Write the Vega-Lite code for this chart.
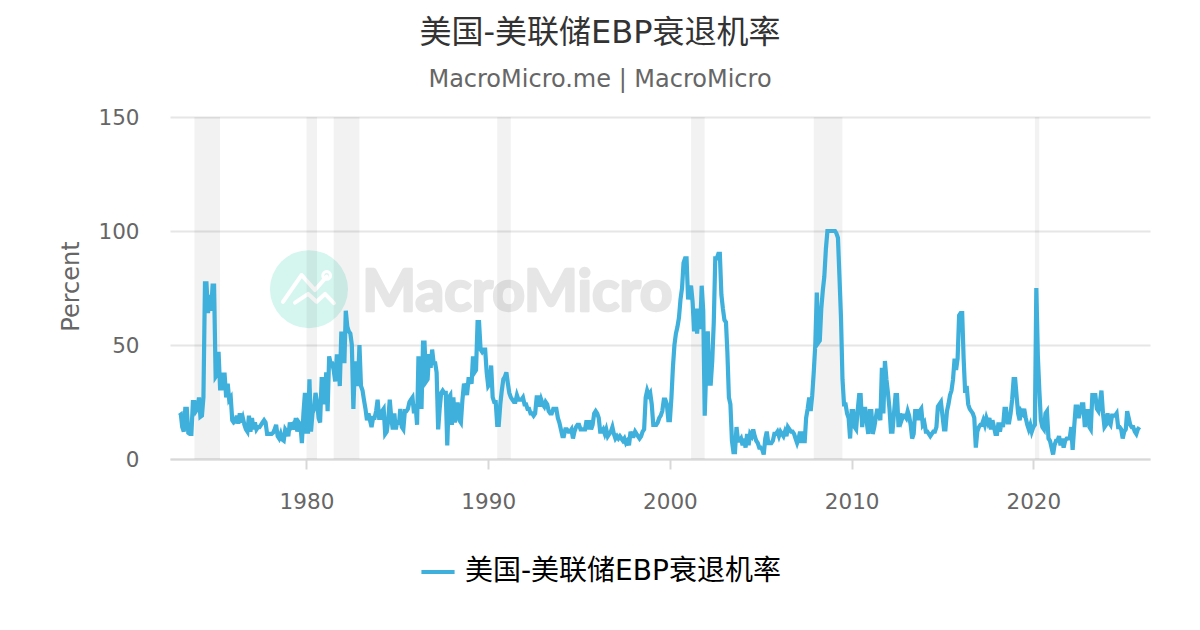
{
  "$schema": "https://vega.github.io/schema/vega-lite/v6.json",
  "width": 980,
  "height": 342,
  "autosize": {"type": "none"},
  "padding": {"left": 170, "top": 117, "right": 50, "bottom": 171},
  "background": "#ffffff",
  "title": {
    "text": "美国-美联储EBP衰退机率",
    "subtitle": "MacroMicro.me | MacroMicro",
    "anchor": "middle",
    "dx": -60,
    "offset": 14,
    "font": "DejaVu Sans, Noto Sans CJK SC",
    "fontSize": 32,
    "fontWeight": "normal",
    "color": "#333333",
    "subtitleFont": "DejaVu Sans",
    "subtitleFontSize": 24,
    "subtitleColor": "#666666",
    "subtitlePadding": 18
  },
  "datasets": {
    "recessions": [
      {"start": "1973-11-01", "end": "1975-03-31"},
      {"start": "1980-01-01", "end": "1980-07-31"},
      {"start": "1981-07-01", "end": "1982-11-30"},
      {"start": "1990-07-01", "end": "1991-03-31"},
      {"start": "2001-03-01", "end": "2001-11-30"},
      {"start": "2007-12-01", "end": "2009-06-30"},
      {"start": "2020-02-01", "end": "2020-04-30"}
    ],
    "logo_lines": [
      {"part": "a", "d": "1978-09-15", "v": 68.9},
      {"part": "a", "d": "1979-09-25", "v": 80.7},
      {"part": "a", "d": "1980-06-20", "v": 74.1},
      {"part": "a", "d": "1981-02-10", "v": 80},
      {"part": "b", "d": "1979-05-15", "v": 68.6},
      {"part": "b", "d": "1980-02-05", "v": 72.4},
      {"part": "b", "d": "1980-07-22", "v": 69},
      {"part": "b", "d": "1981-01-08", "v": 72.4},
      {"part": "b", "d": "1981-07-05", "v": 68.4}
    ],
    "series": [
      {"d":"1973-01-01","v":19},{"d":"1973-02-01","v":19.5},{"d":"1973-03-01","v":14},{"d":"1973-04-01","v":12},{"d":"1973-05-01","v":22},{"d":"1973-06-01","v":22},{"d":"1973-07-01","v":11.5},{"d":"1973-08-01","v":11},{"d":"1973-09-01","v":11},{"d":"1973-10-01","v":25},{"d":"1973-11-01","v":25},{"d":"1973-12-01","v":21},
      {"d":"1974-01-01","v":22},{"d":"1974-02-01","v":27},{"d":"1974-03-01","v":18.5},{"d":"1974-04-01","v":19},{"d":"1974-05-01","v":27},{"d":"1974-06-01","v":77},{"d":"1974-07-01","v":77},{"d":"1974-08-01","v":64},{"d":"1974-09-01","v":72},{"d":"1974-10-01","v":65},{"d":"1974-11-01","v":76},{"d":"1974-12-01","v":76},
      {"d":"1975-01-01","v":36},{"d":"1975-02-01","v":37},{"d":"1975-03-01","v":47},{"d":"1975-04-01","v":31},{"d":"1975-05-01","v":31},{"d":"1975-06-01","v":37},{"d":"1975-07-01","v":37},{"d":"1975-08-01","v":27},{"d":"1975-09-01","v":33},{"d":"1975-10-01","v":26},{"d":"1975-11-01","v":27},{"d":"1975-12-01","v":17},
      {"d":"1976-01-01","v":16},{"d":"1976-02-01","v":16.5},{"d":"1976-03-01","v":19},{"d":"1976-04-01","v":15.5},{"d":"1976-05-01","v":20},{"d":"1976-06-01","v":16},{"d":"1976-07-01","v":18},{"d":"1976-08-01","v":15},{"d":"1976-09-01","v":13},{"d":"1976-10-01","v":12},{"d":"1976-11-01","v":19},{"d":"1976-12-01","v":12},
      {"d":"1977-01-01","v":18},{"d":"1977-02-01","v":13},{"d":"1977-03-01","v":16},{"d":"1977-04-01","v":13},{"d":"1977-05-01","v":14},{"d":"1977-06-01","v":14},{"d":"1977-07-01","v":15},{"d":"1977-08-01","v":16},{"d":"1977-09-01","v":17},{"d":"1977-10-01","v":16},{"d":"1977-11-01","v":11},{"d":"1977-12-01","v":11},
      {"d":"1978-01-01","v":11},{"d":"1978-02-01","v":11},{"d":"1978-03-01","v":11.5},{"d":"1978-04-01","v":13},{"d":"1978-05-01","v":15},{"d":"1978-06-01","v":10},{"d":"1978-07-01","v":9},{"d":"1978-08-01","v":11},{"d":"1978-09-01","v":8.5},{"d":"1978-10-01","v":8},{"d":"1978-11-01","v":13},{"d":"1978-12-01","v":12},
      {"d":"1979-01-01","v":10},{"d":"1979-02-01","v":16},{"d":"1979-03-01","v":14},{"d":"1979-04-01","v":15},{"d":"1979-05-01","v":13},{"d":"1979-06-01","v":18},{"d":"1979-07-01","v":12},{"d":"1979-08-01","v":16},{"d":"1979-09-01","v":15},{"d":"1979-10-01","v":7},{"d":"1979-11-01","v":20},{"d":"1979-12-01","v":29},
      {"d":"1980-01-01","v":12},{"d":"1980-02-01","v":12},{"d":"1980-03-01","v":35},{"d":"1980-04-01","v":12},{"d":"1980-05-01","v":20},{"d":"1980-06-01","v":22},{"d":"1980-07-01","v":29},{"d":"1980-08-01","v":25},{"d":"1980-09-01","v":18},{"d":"1980-10-01","v":16},{"d":"1980-11-01","v":35},{"d":"1980-12-01","v":35},
      {"d":"1981-01-01","v":24},{"d":"1981-02-01","v":38},{"d":"1981-03-01","v":21},{"d":"1981-04-01","v":45},{"d":"1981-05-01","v":42},{"d":"1981-06-01","v":42},{"d":"1981-07-01","v":39},{"d":"1981-08-01","v":34},{"d":"1981-09-01","v":45},{"d":"1981-10-01","v":45},{"d":"1981-11-01","v":32},{"d":"1981-12-01","v":55},
      {"d":"1982-01-01","v":55},{"d":"1982-02-01","v":42},{"d":"1982-03-01","v":65},{"d":"1982-04-01","v":58},{"d":"1982-05-01","v":56},{"d":"1982-06-01","v":55},{"d":"1982-07-01","v":50},{"d":"1982-08-01","v":22},{"d":"1982-09-01","v":42},{"d":"1982-10-01","v":42},{"d":"1982-11-01","v":32},{"d":"1982-12-01","v":50},
      {"d":"1983-01-01","v":32},{"d":"1983-02-01","v":30},{"d":"1983-03-01","v":26},{"d":"1983-04-01","v":22},{"d":"1983-05-01","v":17},{"d":"1983-06-01","v":20},{"d":"1983-07-01","v":17},{"d":"1983-08-01","v":14},{"d":"1983-09-01","v":18},{"d":"1983-10-01","v":18},{"d":"1983-11-01","v":21},{"d":"1983-12-01","v":26},
      {"d":"1984-01-01","v":18},{"d":"1984-02-01","v":18},{"d":"1984-03-01","v":21},{"d":"1984-04-01","v":22},{"d":"1984-05-01","v":11},{"d":"1984-06-01","v":12},{"d":"1984-07-01","v":17},{"d":"1984-08-01","v":26},{"d":"1984-09-01","v":18},{"d":"1984-10-01","v":13},{"d":"1984-11-01","v":20},{"d":"1984-12-01","v":13},
      {"d":"1985-01-01","v":17},{"d":"1985-02-01","v":15},{"d":"1985-03-01","v":22},{"d":"1985-04-01","v":14},{"d":"1985-05-01","v":13},{"d":"1985-06-01","v":21},{"d":"1985-07-01","v":21},{"d":"1985-08-01","v":22},{"d":"1985-09-01","v":25},{"d":"1985-10-01","v":26},{"d":"1985-11-01","v":27},{"d":"1985-12-01","v":20},
      {"d":"1986-01-01","v":24},{"d":"1986-02-01","v":15},{"d":"1986-03-01","v":45},{"d":"1986-04-01","v":30},{"d":"1986-05-01","v":22},{"d":"1986-06-01","v":51},{"d":"1986-07-01","v":51},{"d":"1986-08-01","v":34},{"d":"1986-09-01","v":35},{"d":"1986-10-01","v":46},{"d":"1986-11-01","v":40},{"d":"1986-12-01","v":48},
      {"d":"1987-01-01","v":42},{"d":"1987-02-01","v":42},{"d":"1987-03-01","v":38},{"d":"1987-04-01","v":13},{"d":"1987-05-01","v":22},{"d":"1987-06-01","v":29},{"d":"1987-07-01","v":30},{"d":"1987-08-01","v":29},{"d":"1987-09-01","v":29},{"d":"1987-10-01","v":6},{"d":"1987-11-01","v":27},{"d":"1987-12-01","v":28},
      {"d":"1988-01-01","v":15},{"d":"1988-02-01","v":27},{"d":"1988-03-01","v":16},{"d":"1988-04-01","v":24},{"d":"1988-05-01","v":24},{"d":"1988-06-01","v":17},{"d":"1988-07-01","v":16},{"d":"1988-08-01","v":26},{"d":"1988-09-01","v":33},{"d":"1988-10-01","v":31},{"d":"1988-11-01","v":28},{"d":"1988-12-01","v":35},
      {"d":"1989-01-01","v":35},{"d":"1989-02-01","v":33},{"d":"1989-03-01","v":45},{"d":"1989-04-01","v":38},{"d":"1989-05-01","v":39},{"d":"1989-06-01","v":60},{"d":"1989-07-01","v":60},{"d":"1989-08-01","v":48},{"d":"1989-09-01","v":47},{"d":"1989-10-01","v":48},{"d":"1989-11-01","v":48},{"d":"1989-12-01","v":38},
      {"d":"1990-01-01","v":32},{"d":"1990-02-01","v":33},{"d":"1990-03-01","v":41},{"d":"1990-04-01","v":27},{"d":"1990-05-01","v":25},{"d":"1990-06-01","v":25},{"d":"1990-07-01","v":15},{"d":"1990-08-01","v":15},{"d":"1990-09-01","v":24},{"d":"1990-10-01","v":30},{"d":"1990-11-01","v":35},{"d":"1990-12-01","v":36},
      {"d":"1991-01-01","v":38},{"d":"1991-02-01","v":33},{"d":"1991-03-01","v":29},{"d":"1991-04-01","v":27},{"d":"1991-05-01","v":26},{"d":"1991-06-01","v":25},{"d":"1991-07-01","v":25},{"d":"1991-08-01","v":28},{"d":"1991-09-01","v":26},{"d":"1991-10-01","v":26},{"d":"1991-11-01","v":26},{"d":"1991-12-01","v":27},
      {"d":"1992-01-01","v":24},{"d":"1992-02-01","v":24},{"d":"1992-03-01","v":22},{"d":"1992-04-01","v":22},{"d":"1992-05-01","v":20},{"d":"1992-06-01","v":20},{"d":"1992-07-01","v":19},{"d":"1992-08-01","v":20},{"d":"1992-09-01","v":27},{"d":"1992-10-01","v":27},{"d":"1992-11-01","v":23},{"d":"1992-12-01","v":26},
      {"d":"1993-01-01","v":24},{"d":"1993-02-01","v":23},{"d":"1993-03-01","v":25},{"d":"1993-04-01","v":24},{"d":"1993-05-01","v":21},{"d":"1993-06-01","v":20},{"d":"1993-07-01","v":20},{"d":"1993-08-01","v":22},{"d":"1993-09-01","v":22},{"d":"1993-10-01","v":22},{"d":"1993-11-01","v":18},{"d":"1993-12-01","v":16},
      {"d":"1994-01-01","v":13},{"d":"1994-02-01","v":10},{"d":"1994-03-01","v":10},{"d":"1994-04-01","v":13},{"d":"1994-05-01","v":13},{"d":"1994-06-01","v":12},{"d":"1994-07-01","v":12},{"d":"1994-08-01","v":13},{"d":"1994-09-01","v":9},{"d":"1994-10-01","v":12},{"d":"1994-11-01","v":14},{"d":"1994-12-01","v":15},
      {"d":"1995-01-01","v":15},{"d":"1995-02-01","v":13},{"d":"1995-03-01","v":13},{"d":"1995-04-01","v":13},{"d":"1995-05-01","v":13},{"d":"1995-06-01","v":17},{"d":"1995-07-01","v":13},{"d":"1995-08-01","v":17},{"d":"1995-09-01","v":13},{"d":"1995-10-01","v":15},{"d":"1995-11-01","v":20},{"d":"1995-12-01","v":21},
      {"d":"1996-01-01","v":20},{"d":"1996-02-01","v":18},{"d":"1996-03-01","v":12},{"d":"1996-04-01","v":12},{"d":"1996-05-01","v":13},{"d":"1996-06-01","v":11},{"d":"1996-07-01","v":13},{"d":"1996-08-01","v":10},{"d":"1996-09-01","v":11},{"d":"1996-10-01","v":12},{"d":"1996-11-01","v":14},{"d":"1996-12-01","v":11},
      {"d":"1997-01-01","v":9},{"d":"1997-02-01","v":10},{"d":"1997-03-01","v":9},{"d":"1997-04-01","v":10},{"d":"1997-05-01","v":9},{"d":"1997-06-01","v":8},{"d":"1997-07-01","v":9},{"d":"1997-08-01","v":7},{"d":"1997-09-01","v":8},{"d":"1997-10-01","v":6},{"d":"1997-11-01","v":12},{"d":"1997-12-01","v":10},
      {"d":"1998-01-01","v":10},{"d":"1998-02-01","v":12},{"d":"1998-03-01","v":11},{"d":"1998-04-01","v":10},{"d":"1998-05-01","v":9},{"d":"1998-06-01","v":10},{"d":"1998-07-01","v":12},{"d":"1998-08-01","v":13},{"d":"1998-09-01","v":27},{"d":"1998-10-01","v":30},{"d":"1998-11-01","v":28},{"d":"1998-12-01","v":29},
      {"d":"1999-01-01","v":24},{"d":"1999-02-01","v":15},{"d":"1999-03-01","v":15},{"d":"1999-04-01","v":15},{"d":"1999-05-01","v":16},{"d":"1999-06-01","v":18},{"d":"1999-07-01","v":19},{"d":"1999-08-01","v":21},{"d":"1999-09-01","v":26},{"d":"1999-10-01","v":26},{"d":"1999-11-01","v":24},{"d":"1999-12-01","v":17},
      {"d":"2000-01-01","v":17},{"d":"2000-02-01","v":27},{"d":"2000-03-01","v":40},{"d":"2000-04-01","v":50},{"d":"2000-05-01","v":55},{"d":"2000-06-01","v":58},{"d":"2000-07-01","v":62},{"d":"2000-08-01","v":70},{"d":"2000-09-01","v":75},{"d":"2000-10-01","v":86},{"d":"2000-11-01","v":88},{"d":"2000-12-01","v":88},
      {"d":"2001-01-01","v":70},{"d":"2001-02-01","v":74},{"d":"2001-03-01","v":76},{"d":"2001-04-01","v":69},{"d":"2001-05-01","v":56},{"d":"2001-06-01","v":66},{"d":"2001-07-01","v":55},{"d":"2001-08-01","v":66},{"d":"2001-09-01","v":57},{"d":"2001-10-01","v":76},{"d":"2001-11-01","v":65},{"d":"2001-12-01","v":19},
      {"d":"2002-01-01","v":40},{"d":"2002-02-01","v":56},{"d":"2002-03-01","v":33},{"d":"2002-04-01","v":33},{"d":"2002-05-01","v":43},{"d":"2002-06-01","v":60},{"d":"2002-07-01","v":88},{"d":"2002-08-01","v":88},{"d":"2002-09-01","v":90},{"d":"2002-10-01","v":90},{"d":"2002-11-01","v":72},{"d":"2002-12-01","v":66},
      {"d":"2003-01-01","v":61},{"d":"2003-02-01","v":60},{"d":"2003-03-01","v":47},{"d":"2003-04-01","v":27},{"d":"2003-05-01","v":24},{"d":"2003-06-01","v":8},{"d":"2003-07-01","v":3},{"d":"2003-08-01","v":3},{"d":"2003-09-01","v":14},{"d":"2003-10-01","v":8},{"d":"2003-11-01","v":8},{"d":"2003-12-01","v":9},
      {"d":"2004-01-01","v":6},{"d":"2004-02-01","v":9},{"d":"2004-03-01","v":5},{"d":"2004-04-01","v":11},{"d":"2004-05-01","v":6},{"d":"2004-06-01","v":11},{"d":"2004-07-01","v":10},{"d":"2004-08-01","v":13},{"d":"2004-09-01","v":10},{"d":"2004-10-01","v":8},{"d":"2004-11-01","v":7},{"d":"2004-12-01","v":5},
      {"d":"2005-01-01","v":5},{"d":"2005-02-01","v":4},{"d":"2005-03-01","v":2},{"d":"2005-04-01","v":9},{"d":"2005-05-01","v":12},{"d":"2005-06-01","v":7},{"d":"2005-07-01","v":7},{"d":"2005-08-01","v":7},{"d":"2005-09-01","v":8},{"d":"2005-10-01","v":11},{"d":"2005-11-01","v":11},{"d":"2005-12-01","v":12},
      {"d":"2006-01-01","v":10},{"d":"2006-02-01","v":12},{"d":"2006-03-01","v":11},{"d":"2006-04-01","v":10},{"d":"2006-05-01","v":12},{"d":"2006-06-01","v":10},{"d":"2006-07-01","v":14},{"d":"2006-08-01","v":13},{"d":"2006-09-01","v":12},{"d":"2006-10-01","v":12},{"d":"2006-11-01","v":11},{"d":"2006-12-01","v":9},
      {"d":"2007-01-01","v":7},{"d":"2007-02-01","v":9},{"d":"2007-03-01","v":12},{"d":"2007-04-01","v":7},{"d":"2007-05-01","v":12},{"d":"2007-06-01","v":7},{"d":"2007-07-01","v":18},{"d":"2007-08-01","v":22},{"d":"2007-09-01","v":27},{"d":"2007-10-01","v":21},{"d":"2007-11-01","v":28},{"d":"2007-12-01","v":38},
      {"d":"2008-01-01","v":50},{"d":"2008-02-01","v":73},{"d":"2008-03-01","v":51},{"d":"2008-04-01","v":52},{"d":"2008-05-01","v":66},{"d":"2008-06-01","v":74},{"d":"2008-07-01","v":80},{"d":"2008-08-01","v":92},{"d":"2008-09-01","v":100},{"d":"2008-10-01","v":100},{"d":"2008-11-01","v":100},{"d":"2008-12-01","v":100},
      {"d":"2009-01-01","v":100},{"d":"2009-02-01","v":100},{"d":"2009-03-01","v":99},{"d":"2009-04-01","v":97},{"d":"2009-05-01","v":80},{"d":"2009-06-01","v":62},{"d":"2009-07-01","v":35},{"d":"2009-08-01","v":24},{"d":"2009-09-01","v":24},{"d":"2009-10-01","v":20},{"d":"2009-11-01","v":18},{"d":"2009-12-01","v":9},
      {"d":"2010-01-01","v":21},{"d":"2010-02-01","v":21},{"d":"2010-03-01","v":14},{"d":"2010-04-01","v":13},{"d":"2010-05-01","v":21},{"d":"2010-06-01","v":28},{"d":"2010-07-01","v":28},{"d":"2010-08-01","v":14},{"d":"2010-09-01","v":22},{"d":"2010-10-01","v":22},{"d":"2010-11-01","v":16},{"d":"2010-12-01","v":11},
      {"d":"2011-01-01","v":21},{"d":"2011-02-01","v":21},{"d":"2011-03-01","v":11},{"d":"2011-04-01","v":14},{"d":"2011-05-01","v":18},{"d":"2011-06-01","v":22},{"d":"2011-07-01","v":20},{"d":"2011-08-01","v":17},{"d":"2011-09-01","v":40},{"d":"2011-10-01","v":20},{"d":"2011-11-01","v":43},{"d":"2011-12-01","v":35},
      {"d":"2012-01-01","v":29},{"d":"2012-02-01","v":22},{"d":"2012-03-01","v":12},{"d":"2012-04-01","v":12},{"d":"2012-05-01","v":20},{"d":"2012-06-01","v":28},{"d":"2012-07-01","v":28},{"d":"2012-08-01","v":14},{"d":"2012-09-01","v":20},{"d":"2012-10-01","v":17},{"d":"2012-11-01","v":19},{"d":"2012-12-01","v":19},
      {"d":"2013-01-01","v":18},{"d":"2013-02-01","v":21},{"d":"2013-03-01","v":19},{"d":"2013-04-01","v":15},{"d":"2013-05-01","v":9},{"d":"2013-06-01","v":11},{"d":"2013-07-01","v":21},{"d":"2013-08-01","v":21},{"d":"2013-09-01","v":17},{"d":"2013-10-01","v":21},{"d":"2013-11-01","v":22},{"d":"2013-12-01","v":15},
      {"d":"2014-01-01","v":16},{"d":"2014-02-01","v":12},{"d":"2014-03-01","v":12},{"d":"2014-04-01","v":11},{"d":"2014-05-01","v":10},{"d":"2014-06-01","v":11},{"d":"2014-07-01","v":12},{"d":"2014-08-01","v":12},{"d":"2014-09-01","v":14},{"d":"2014-10-01","v":23},{"d":"2014-11-01","v":24},{"d":"2014-12-01","v":25},
      {"d":"2015-01-01","v":19},{"d":"2015-02-01","v":13},{"d":"2015-03-01","v":13},{"d":"2015-04-01","v":21},{"d":"2015-05-01","v":24},{"d":"2015-06-01","v":28},{"d":"2015-07-01","v":30},{"d":"2015-08-01","v":35},{"d":"2015-09-01","v":44},{"d":"2015-10-01","v":39},{"d":"2015-11-01","v":44},{"d":"2015-12-01","v":63},
      {"d":"2016-01-01","v":64},{"d":"2016-02-01","v":64},{"d":"2016-03-01","v":44},{"d":"2016-04-01","v":29},{"d":"2016-05-01","v":32},{"d":"2016-06-01","v":24},{"d":"2016-07-01","v":22},{"d":"2016-08-01","v":21},{"d":"2016-09-01","v":20},{"d":"2016-10-01","v":18},{"d":"2016-11-01","v":5},{"d":"2016-12-01","v":12},
      {"d":"2017-01-01","v":14},{"d":"2017-02-01","v":15},{"d":"2017-03-01","v":15},{"d":"2017-04-01","v":17},{"d":"2017-05-01","v":15},{"d":"2017-06-01","v":18},{"d":"2017-07-01","v":16},{"d":"2017-08-01","v":18},{"d":"2017-09-01","v":13},{"d":"2017-10-01","v":17},{"d":"2017-11-01","v":14},{"d":"2017-12-01","v":11},
      {"d":"2018-01-01","v":11},{"d":"2018-02-01","v":16},{"d":"2018-03-01","v":12},{"d":"2018-04-01","v":16},{"d":"2018-05-01","v":14},{"d":"2018-06-01","v":22},{"d":"2018-07-01","v":22},{"d":"2018-08-01","v":16},{"d":"2018-09-01","v":16},{"d":"2018-10-01","v":20},{"d":"2018-11-01","v":26},{"d":"2018-12-01","v":35},
      {"d":"2019-01-01","v":35},{"d":"2019-02-01","v":27},{"d":"2019-03-01","v":20},{"d":"2019-04-01","v":17},{"d":"2019-05-01","v":21},{"d":"2019-06-01","v":20},{"d":"2019-07-01","v":22},{"d":"2019-08-01","v":18},{"d":"2019-09-01","v":15},{"d":"2019-10-01","v":13},{"d":"2019-11-01","v":15},{"d":"2019-12-01","v":12},
      {"d":"2020-01-01","v":14},{"d":"2020-02-01","v":15},{"d":"2020-03-01","v":75},{"d":"2020-04-01","v":45},{"d":"2020-05-01","v":30},{"d":"2020-06-01","v":17},{"d":"2020-07-01","v":14},{"d":"2020-08-01","v":13},{"d":"2020-09-01","v":20},{"d":"2020-10-01","v":21},{"d":"2020-11-01","v":9},{"d":"2020-12-01","v":8},
      {"d":"2021-01-01","v":5},{"d":"2021-02-01","v":2},{"d":"2021-03-01","v":6},{"d":"2021-04-01","v":8},{"d":"2021-05-01","v":8},{"d":"2021-06-01","v":10},{"d":"2021-07-01","v":6},{"d":"2021-08-01","v":9},{"d":"2021-09-01","v":5},{"d":"2021-10-01","v":8},{"d":"2021-11-01","v":9},{"d":"2021-12-01","v":9},
      {"d":"2022-01-01","v":9},{"d":"2022-02-01","v":14},{"d":"2022-03-01","v":4},{"d":"2022-04-01","v":14},{"d":"2022-05-01","v":23},{"d":"2022-06-01","v":23},{"d":"2022-07-01","v":18},{"d":"2022-08-01","v":21},{"d":"2022-09-01","v":24},{"d":"2022-10-01","v":24},{"d":"2022-11-01","v":14},{"d":"2022-12-01","v":21},
      {"d":"2023-01-01","v":21},{"d":"2023-02-01","v":14},{"d":"2023-03-01","v":13},{"d":"2023-04-01","v":28},{"d":"2023-05-01","v":28},{"d":"2023-06-01","v":28},{"d":"2023-07-01","v":22},{"d":"2023-08-01","v":21},{"d":"2023-09-01","v":25},{"d":"2023-10-01","v":30},{"d":"2023-11-01","v":20},{"d":"2023-12-01","v":14},
      {"d":"2024-01-01","v":15},{"d":"2024-02-01","v":20},{"d":"2024-03-01","v":16},{"d":"2024-04-01","v":15},{"d":"2024-05-01","v":19},{"d":"2024-06-01","v":19},{"d":"2024-07-01","v":19},{"d":"2024-08-01","v":20},{"d":"2024-09-01","v":14},{"d":"2024-10-01","v":14},{"d":"2024-11-01","v":13},{"d":"2024-12-01","v":9},
      {"d":"2025-01-01","v":12},{"d":"2025-02-01","v":13},{"d":"2025-03-01","v":21},{"d":"2025-04-01","v":18},{"d":"2025-05-01","v":15},{"d":"2025-06-01","v":14},{"d":"2025-07-01","v":14},{"d":"2025-08-01","v":12},{"d":"2025-09-01","v":11},{"d":"2025-10-01","v":13},{"d":"2025-11-01","v":14}
    ]
  },
  "encoding": {
    "x": {
      "field": "d",
      "type": "temporal",
      "title": null,
      "scale": {"type": "utc", "domain": ["1972-06-28", "2026-06-03"]},
      "axis": {
        "format": "%Y",
        "values": ["1980-01-01", "1990-01-01", "2000-01-01", "2010-01-01", "2020-01-01"],
        "grid": false,
        "domainColor": "#d8d8d8",
        "domainWidth": 2,
        "tickColor": "#d8d8d8",
        "tickWidth": 2,
        "tickSize": 10,
        "labelFont": "DejaVu Sans",
        "labelFontSize": 21.5,
        "labelColor": "#666666",
        "labelPadding": 22,
        "labelFlush": false
      }
    },
    "y": {
      "field": "v",
      "type": "quantitative",
      "title": "Percent",
      "scale": {"domain": [0, 150], "nice": false},
      "axis": {
        "values": [0, 50, 100, 150],
        "grid": true,
        "gridColor": "#e6e6e6",
        "gridWidth": 2,
        "domain": false,
        "ticks": false,
        "labelFont": "DejaVu Sans",
        "labelFontSize": 21.5,
        "labelColor": "#666666",
        "labelPadding": 31,
        "labelOffset": 1,
        "titleFont": "DejaVu Sans",
        "titleFontSize": 24,
        "titleFontWeight": "normal",
        "titleColor": "#666666",
        "titlePadding": 14,
        "titleY": 169
      }
    }
  },
  "layer": [
    {
      "data": {"values": [{"d": "1980-02-20", "v": 74.5}]},
      "mark": {"type": "point", "shape": "circle", "filled": true, "size": 6084, "color": "#d5f6ef", "opacity": 1}
    },
    {
      "data": {"name": "logo_lines"},
      "mark": {"type": "line", "color": "#ffffff", "strokeWidth": 4, "strokeCap": "round", "strokeJoin": "round"},
      "encoding": {"detail": {"field": "part"}}
    },
    {
      "data": {"values": [{"d": "1981-02-10", "v": 80.5}]},
      "mark": {"type": "point", "shape": "circle", "filled": false, "size": 60, "stroke": "#ffffff", "strokeWidth": 3, "opacity": 1}
    },
    {
      "data": {"values": [{"d": "1983-01-25", "v": 72.3, "t": "MacroMicro"}]},
      "mark": {"type": "text", "align": "left", "baseline": "middle", "font": "Lato", "fontSize": 57, "fontWeight": "bold", "color": "#e6e6e6", "stroke": "#e6e6e6", "strokeWidth": 2.5, "strokeJoin": "round"},
      "encoding": {"text": {"field": "t"}}
    },
    {
      "data": {"name": "recessions"},
      "mark": {"type": "rect", "color": "#000000", "opacity": 0.05},
      "encoding": {
        "x": {"field": "start", "type": "temporal"},
        "x2": {"field": "end"},
        "y": {"value": 0},
        "y2": {"value": 342}
      }
    },
    {
      "data": {"name": "series"},
      "mark": {"type": "line", "strokeWidth": 4.2, "strokeJoin": "miter", "interpolate": "linear"},
      "encoding": {
        "color": {
          "datum": "美国-美联储EBP衰退机率",
          "scale": {"range": ["#3eb0db"]},
          "legend": {
            "title": null,
            "orient": "none",
            "legendX": 249,
            "legendY": 436,
            "symbolType": "stroke",
            "symbolSize": 1100,
            "symbolStrokeWidth": 4,
            "labelFont": "DejaVu Sans, Noto Sans CJK SC",
            "labelFontSize": 28,
            "labelColor": "#000000",
            "labelOffset": 8,
            "labelLimit": 0
          }
        }
      }
    }
  ],
  "config": {"view": {"stroke": null}}
}
